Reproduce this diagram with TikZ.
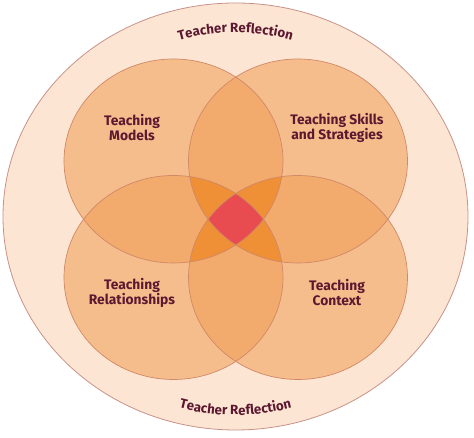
\documentclass[tikz,border=0pt]{standalone}
\usepackage{fontspec}
\setmainfont{Fira Sans}
\usetikzlibrary{decorations.text}
\definecolor{outerfill}{HTML}{FCE5D2}
\definecolor{outerline}{HTML}{C8928A}
\definecolor{cone}{HTML}{F6BD8C}
\definecolor{ctwo}{HTML}{F3AA6D}
\definecolor{cthree}{HTML}{EF8F36}
\definecolor{cfour}{HTML}{E84B50}
\definecolor{cline}{HTML}{D08868}
\definecolor{txt}{HTML}{5B1830}
\tikzset{
  lbl/.style={font=\fontsize{13.8}{15}\selectfont\bfseries, text=txt, align=center, inner sep=0pt},
  ring/.style={draw=cline, line width=0.7pt},
}
\begin{document}
\begin{tikzpicture}[x=1pt,y=1pt]
\useasboundingbox (0,0) rectangle (474,438);
\coordinate (oc) at (235.5,221.5);
\coordinate (tl) at (173.5,277);
\coordinate (tr) at (298,277);
\coordinate (bl) at (173.5,160.5);
\coordinate (br) at (298,160.5);
\def\eTL{(tl) ellipse [x radius=109.5pt, y radius=102pt]}
\def\eTR{(tr) ellipse [x radius=109.5pt, y radius=102pt]}
\def\eBL{(bl) ellipse [x radius=109.5pt, y radius=102pt]}
\def\eBR{(br) ellipse [x radius=109.5pt, y radius=102pt]}
% outer
\fill[outerfill, draw=outerline, line width=0.8pt] (oc) ellipse [x radius=232.5pt, y radius=213.5pt];
% single
\fill[cone] \eTL; \fill[cone] \eTR; \fill[cone] \eBL; \fill[cone] \eBR;
% pairs
\begin{scope}\clip \eTL; \fill[ctwo] \eTR; \fill[ctwo] \eBL; \fill[ctwo] \eBR; \end{scope}
\begin{scope}\clip \eTR; \fill[ctwo] \eBL; \fill[ctwo] \eBR; \end{scope}
\begin{scope}\clip \eBL; \fill[ctwo] \eBR; \end{scope}
% triples
\begin{scope}\clip \eTL; \clip \eTR; \fill[cthree] \eBL; \fill[cthree] \eBR; \end{scope}
\begin{scope}\clip \eBL; \clip \eBR; \fill[cthree] \eTL; \fill[cthree] \eTR; \end{scope}
% quad
\begin{scope}\clip \eTL; \clip \eTR; \clip \eBL; \fill[cfour] \eBR; \end{scope}
% outlines
\draw[ring] \eTL; \draw[ring] \eTR; \draw[ring] \eBL; \draw[ring] \eBR;
% labels
\node[lbl] (models) at (132,310) {Teaching\\Models};
\node[lbl] (skills) at (337,310) {Teaching Skills\\and Strategies};
\node[lbl] (rel) at (132,145) {Teaching\\Relationships};
\node[lbl] (ctx) at (337,145) {Teaching\\Context};
% curved texts
\path[decorate, decoration={text along path, text align=center,
  text={|\fontsize{13.3}{14}\selectfont\bfseries\color{txt}|Teacher Reflection}}]
  (oc) ++(118:197pt and 184pt) arc [start angle=118, end angle=62, x radius=197pt, y radius=184pt];
\path[decorate, decoration={text along path, text align=center,
  text={|\fontsize{13.3}{14}\selectfont\bfseries\color{txt}|Teacher Reflection}}]
  (oc) ++(240:212pt and 198.5pt) arc [start angle=240, end angle=300, x radius=212pt, y radius=198.5pt];
\end{tikzpicture}
\end{document}
